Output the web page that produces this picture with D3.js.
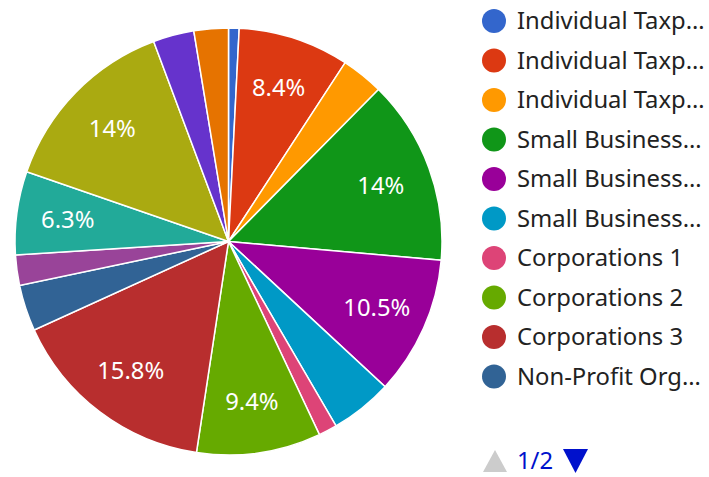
<!DOCTYPE html>
<html>
<head>
<meta charset="utf-8">
<script src="https://cdn.jsdelivr.net/npm/d3@7"></script>
<style>
  body { margin: 0; background: #fff; }
  text { font-family: "Noto Sans", sans-serif; }
</style>
</head>
<body>
<div id="chart"></div>
<script>
(function () {
  'use strict';

  // data
  var names = [
    'Individual Taxpayers 1', 'Individual Taxpayers 2', 'Individual Taxpayers 3',
    'Small Businesses 1', 'Small Businesses 2', 'Small Businesses 3',
    'Corporations 1', 'Corporations 2', 'Corporations 3',
    'Non-Profit Organizations 1', 'Non-Profit Organizations 2', 'Non-Profit Organizations 3',
    'Government Agencies 1', 'Government Agencies 2', 'Government Agencies 3'
  ];
  var values = [0.8, 8.4, 3.2, 14.0, 10.5, 4.7, 1.4, 9.4, 15.8, 3.5, 2.3, 6.3, 14.0, 3.1, 2.6];
  var colors = ['#3366cc', '#dc3912', '#ff9900', '#109618', '#990099', '#0099c6', '#dd4477',
    '#66aa00', '#b82e2e', '#316395', '#994499', '#22aa99', '#aaaa11', '#6633cc', '#e67300'];

  var w = 709, h = 477,
      cx = 228.5, cy = 241.5, r = 213.5,
      perPage = 10,
      fs = '23.8px';

  var svg = d3.select('#chart').append('svg')
    .attr('width', w)
    .attr('height', h);

  var total = d3.sum(values);
  var items = values.map(function (v, i) { return {name: names[i], value: v, color: colors[i]}; });

  var pie = d3.pie().sort(null).value(function (d) { return d.value; });
  var arc = d3.arc().innerRadius(0).outerRadius(r);
  var labelArc = d3.arc().innerRadius(r * 0.76).outerRadius(r * 0.76);

  var g = svg.append('g').attr('transform', 'translate(' + cx + ',' + cy + ')');

  var slices = pie(items);

  g.selectAll('path')
    .data(slices)
    .enter()
    .append('path')
    .attr('d', arc)
    .style('fill', function (d) { return d.data.color; })
    .style('stroke', '#fff')
    .style('stroke-width', 1.5);

  var pct = function (v) {
    var s = d3.format('.1f')(v / total * 100);
    return s.replace(/\.0$/, '') + '%';
  };

  g.selectAll('.lbl')
    .data(slices.filter(function (d) { return d.data.value / total > 0.06; }))
    .enter()
    .append('text')
    .attr('class', 'lbl')
    .attr('transform', function (d) { return 'translate(' + labelArc.centroid(d) + ')'; })
    .attr('text-anchor', 'middle')
    .attr('dy', '0.35em')
    .style('fill', '#fff')
    .style('font-size', fs)
    .text(function (d) { return pct(d.data.value); });

  // legend, first page
  var rowY = d3.scalePoint()
    .domain(d3.range(perPage))
    .range([21, 376.5]);

  var leg = svg.selectAll('.leg')
    .data(items.slice(0, perPage))
    .enter()
    .append('g')
    .attr('class', 'leg')
    .attr('transform', function (d, i) { return 'translate(494,' + rowY(i) + ')'; });

  leg.append('circle')
    .attr('r', 12)
    .style('fill', function (d) { return d.color; });

  leg.append('text')
    .attr('x', 23)
    .attr('dy', '0.35em')
    .style('font-size', fs)
    .style('fill', '#222')
    .text(function (d) { return d.name; })
    .each(function (d) {
      var t = d3.select(this), s = d.name, maxW = w - 517;
      if (this.getComputedTextLength() <= maxW) return;
      while (s.length > 0) {
        s = s.slice(0, -1);
        t.text(s.trim() + '\u2026');
        if (this.getComputedTextLength() <= maxW) break;
      }
    });

  // pager
  var pg = svg.append('g').attr('transform', 'translate(0,461)');
  pg.append('path')
    .attr('d', 'M483,11L495,-11L507,11Z')
    .style('fill', '#ccc');
  pg.append('text')
    .attr('x', 517)
    .attr('dy', '0.35em')
    .style('font-size', fs)
    .style('fill', '#0011cc')
    .text('1/' + Math.ceil(items.length / perPage));
  pg.append('path')
    .attr('d', 'M563,-12L588,-12L575.5,12Z')
    .style('fill', '#0011cc');
}());
</script>
</body>
</html>
